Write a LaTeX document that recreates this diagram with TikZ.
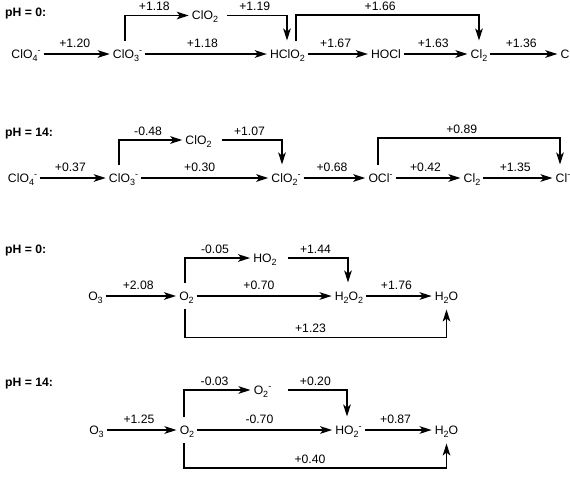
\documentclass[tikz,border=0pt]{standalone}
\usepackage{fontspec}
\setmainfont{Liberation Sans}
\usetikzlibrary{arrows.meta}
\newcommand{\lo}[1]{\raisebox{-2.8pt}{\fontsize{9}{9}\selectfont #1}}
\newcommand{\hi}[1]{\raisebox{4.8pt}{\fontsize{9}{9}\selectfont #1}}
\begin{document}
\begin{tikzpicture}[x=1pt,y=-1pt,
  font=\fontsize{12.2}{14}\selectfont,
  sp/.style={text height=8.5pt, text depth=0pt, inner xsep=3pt, inner ysep=9pt},
  arr/.style={line width=1.9pt, -{Stealth[length=12pt,width=7.5pt,inset=3pt]}},
  lab/.style={above=5pt, inner sep=0pt},
  blab/.style={above=3.5pt, inner sep=0pt},
  ph/.style={anchor=west, inner sep=0pt, text height=8.5pt, text depth=0pt, font=\fontsize{12.2}{14}\selectfont\bfseries}]
\useasboundingbox (0,0) rectangle (570,483);

% ---------- Row 1: chlorine, pH 0 ----------
\node[ph] (h1) at (5,12.5) {pH = 0:};
\node[sp] (a1) at (26,54) {ClO\lo{4}\hi{-}};
\node[sp] (a2) at (127.5,54) {ClO\lo{3}\hi{-}};
\node[sp] (a3) at (205,15.5) {ClO\lo{2}};
\node[sp] (a4) at (287.5,54) {HClO\lo{2}};
\node[sp] (a5) at (386,54) {HOCl};
\node[sp] (a6) at (479,54) {Cl\lo{2}};
\node[sp] (a7) at (565,54) {C};
\draw[arr] (a1) -- node[lab,pos=0.47]{+1.20} (a2);
\draw[arr] (a2) -- node[lab,pos=0.47]{+1.18} (a4);
\draw[arr] ([xshift=-2.5pt]a2.north) |- node[blab,pos=0.73]{+1.18} (a3);
\draw[arr] ([xshift=6pt]a3.east) -| node[blab,pos=0.23]{+1.19} ([xshift=-0.5pt]a4.north);
\draw[arr] ([xshift=8.5pt]a4.north) -- ++(0,-25.5) -| node[blab,pos=0.23]{+1.66} (a6.north);
\draw[arr] (a4) -- node[lab,pos=0.46]{+1.67} (a5);
\draw[arr] (a5) -- node[lab,pos=0.46]{+1.63} (a6);
\draw[arr] (a6) -- node[lab,pos=0.46]{+1.36} (a7);

% ---------- Row 2: chlorine, pH 14 ----------
\node[ph] (h2) at (5,132) {pH = 14:};
\node[sp] (b1) at (22.5,178) {ClO\lo{4}\hi{-}};
\node[sp] (b2) at (123.5,178) {ClO\lo{3}\hi{-}};
\node[sp] (b3) at (198.5,140) {ClO\lo{2}};
\node[sp] (b4) at (286,178) {ClO\lo{2}\hi{-}};
\node[sp] (b5) at (380.5,178) {OCl\hi{-}};
\node[sp] (b6) at (472,178) {Cl\lo{2}};
\node[sp] (b7) at (563,178) {Cl\hi{-}};
\draw[arr] (b1) -- node[lab,pos=0.46]{+0.37} (b2);
\draw[arr] (b2) -- node[lab,pos=0.46]{+0.30} (b4);
\draw[arr] ([xshift=-4.5pt]b2.north) |- node[blab,pos=0.73]{-0.48} (b3);
\draw[arr] ([xshift=7pt]b3.east) -| node[blab,pos=0.23]{+1.07} ([xshift=-4pt]b4.north);
\draw[arr] ([xshift=-2.5pt]b5.north) -- ++(0,-26.75) -| node[blab,pos=0.23]{+0.89} ([xshift=-3pt]b7.north);
\draw[arr] (b4) -- node[lab,pos=0.46]{+0.68} (b5);
\draw[arr] (b5) -- node[lab,pos=0.46]{+0.42} (b6);
\draw[arr] (b6) -- node[lab,pos=0.46]{+1.35} (b7);

% ---------- Row 3: oxygen, pH 0 ----------
\node[ph] (h3) at (5,249.5) {pH = 0:};
\node[sp] (c1) at (95.5,296) {O\lo{3}};
\node[sp] (c2) at (186.5,296) {O\lo{2}};
\node[sp] (c3) at (265,258) {HO\lo{2}};
\node[sp] (c4) at (349,296) {H\lo{2}O\lo{2}};
\node[sp] (c5) at (446.5,296) {H\lo{2}O};
\draw[arr] (c1) -- node[lab,pos=0.46]{+2.08} (c2);
\draw[arr] (c2) -- node[lab,pos=0.46]{+0.70} (c4);
\draw[arr] (c4) -- node[lab,pos=0.46]{+1.76} (c5);
\draw[arr] ([xshift=-1.5pt]c2.north) |- node[blab,pos=0.73]{-0.05} (c3);
\draw[arr] ([xshift=8pt]c3.east) -| node[blab,pos=0.23]{+1.44} ([xshift=-1pt]c4.north);
\draw[arr] ([xshift=-1.5pt]c2.south) -- ++(0,28) -| node[blab,pos=0.24]{+1.23} (c5.south);

% ---------- Row 4: oxygen, pH 14 ----------
\node[ph] (h4) at (5,382) {pH = 14:};
\node[sp] (d1) at (96.5,430) {O\lo{3}};
\node[sp] (d2) at (187,430) {O\lo{2}};
\node[sp] (d3) at (262.5,390) {O\lo{2}\hi{-}};
\node[sp] (d4) at (348.5,430) {HO\lo{2}\hi{-}};
\node[sp] (d5) at (446.5,430) {H\lo{2}O};
\draw[arr] (d1) -- node[lab,pos=0.46]{+1.25} (d2);
\draw[arr] (d2) -- node[lab,pos=0.46]{-0.70} (d4);
\draw[arr] (d4) -- node[lab,pos=0.46]{+0.87} (d5);
\draw[arr] ([xshift=-3pt]d2.north) |- node[blab,pos=0.73]{-0.03} (d3);
\draw[arr] ([xshift=14pt]d3.east) -| node[blab,pos=0.23]{+0.20} ([xshift=-1.5pt]d4.north);
\draw[arr] ([xshift=-3pt]d2.south) -- ++(0,24.75) -| node[blab,pos=0.24]{+0.40} (d5.south);
\end{tikzpicture}
\end{document}
